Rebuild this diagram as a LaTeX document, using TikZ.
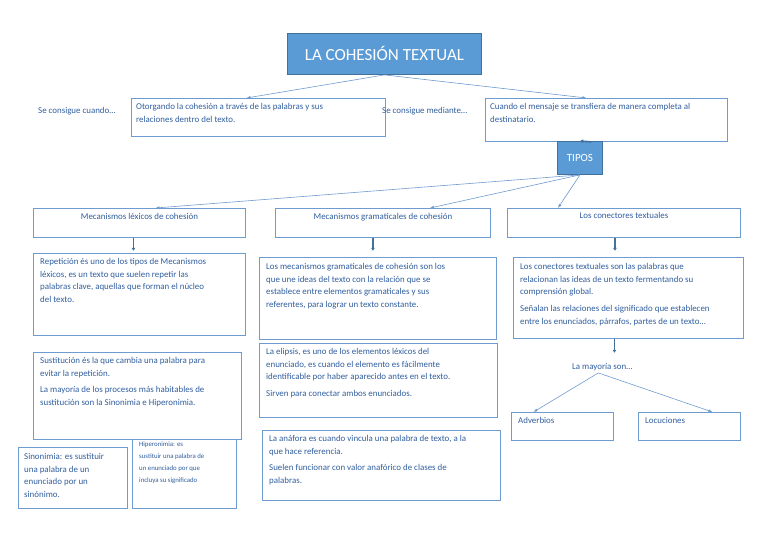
\documentclass[tikz,border=0pt]{standalone}
\usepackage{fontspec}
\setmainfont{Carlito}
\usetikzlibrary{arrows.meta}
\definecolor{tx}{HTML}{2F5D9E}
\definecolor{bd}{HTML}{6E9BD0}
\definecolor{fl}{HTML}{5B9BD5}
\definecolor{fd}{HTML}{41719C}
\tikzset{
 bx/.style={draw=bd,line width=0.9pt,anchor=north west,inner sep=0pt},
 fbx/.style={draw=fd,fill=fl,line width=0.9pt,anchor=north west,inner sep=0pt,text=white},
 tt/.style={anchor=north west,text=tx,align=left,font=\fontsize{8.9}{12.8}\selectfont,inner sep=0pt},
 conn/.style={draw=bd,line width=0.6pt,-{Latex[length=4pt,width=3pt]}},
 thick arr/.style={draw=fd,line width=1.6pt,-{Latex[length=3pt,width=4pt]}},
}
\begin{document}
\begin{tikzpicture}[x=1pt,y=-1pt]
\useasboundingbox (0,0) rectangle (768,543);
% boxes
\node[fbx,minimum width=194pt,minimum height=41pt,font=\fontsize{17}{17}\selectfont] (title) at (287,33) {LA COHESIÓN TEXTUAL};
\node[bx,minimum width=254pt,minimum height=38pt] (A) at (131,98) {};
\node[bx,minimum width=242pt,minimum height=43pt] (B) at (485,98) {};
\node[fbx,minimum width=45pt,minimum height=33pt,font=\fontsize{11}{11}\selectfont] (tipos) at (557,141) {TIPOS};
\node[bx,minimum width=212pt,minimum height=29pt] (L) at (33,208) {};
\node[bx,minimum width=215pt,minimum height=29pt] (G) at (275,208) {};
\node[bx,minimum width=233pt,minimum height=29pt] (C) at (507,208) {};
\node[bx,minimum width=212pt,minimum height=82pt] (L2) at (33,253) {};
\node[bx,minimum width=237pt,minimum height=82pt] (G2) at (259,257) {};
\node[bx,minimum width=230pt,minimum height=81pt] (C2) at (513,257) {};
\node[bx,minimum width=208pt,minimum height=87pt] (L3) at (33,352) {};
\node[bx,minimum width=238pt,minimum height=74pt] (G3) at (259,343) {};
\node[bx,minimum width=238pt,minimum height=70pt] (G4) at (262,430) {};
\node[bx,minimum width=109pt,minimum height=61pt] (S) at (18,447) {};
\node[bx,minimum width=104pt,minimum height=69pt] (H) at (132,439) {};
\node[bx,minimum width=102pt,minimum height=28pt] (Ad) at (511,412) {};
\node[bx,minimum width=102pt,minimum height=28pt] (Lo) at (638,412) {};
% texts
\node[tt] (t1) at (38,107) {Se consigue cuando…};
\node[tt] (t2) at (382,107) {Se consigue mediante…};
\node[tt] (tA) at ([shift={(5,5)}]A.north west) {Otorgando la cohesión a través de las palabras y sus\\relaciones dentro del texto.};
\node[tt] (tB) at ([shift={(5,5)}]B.north west) {Cuando el mensaje se transfiera de manera completa al\\destinatario.};
\node[tt,anchor=north] at ([yshift=-5]L.north) {Mecanismos léxicos de cohesión};
\node[tt,anchor=north] at ([yshift=-5]G.north) {Mecanismos gramaticales de cohesión};
\node[tt,anchor=north] at ([yshift=-4]C.north) {Los conectores textuales};
\node[tt] at ([shift={(7,5)}]L2.north west) {Repetición és uno de los tipos de Mecanismos\\léxicos, es un texto que suelen repetir las\\palabras clave, aquellas que forman el núcleo\\del texto.};
\node[tt] at ([shift={(7,6)}]G2.north west) {Los mecanismos gramaticales de cohesión son los\\que une ideas del texto con la relación que se\\establece entre elementos gramaticales y sus\\referentes, para lograr un texto constante.};
\node[tt] at ([shift={(7,6)}]C2.north west) {Los conectores textuales son las palabras que\\relacionan las ideas de un texto fermentando su\\comprensión global.\\[4pt]Señalan las relaciones del significado que establecen\\entre los enunciados, párrafos, partes de un texto…};
\node[tt] at ([shift={(7,5)}]L3.north west) {Sustitución és la que cambia una palabra para\\evitar la repetición.\\[4pt]La mayoría de los procesos más habitables de\\sustitución son la Sinonimia e Hiperonimia.};
\node[tt] at ([shift={(7,5)}]G3.north west) {La elipsis, es uno de los elementos léxicos del\\enunciado, es cuando el elemento es fácilmente\\identificable por haber aparecido antes en el texto.\\[4pt]Sirven para conectar ambos enunciados.};
\node[tt] at ([shift={(7,5)}]G4.north west) {La anáfora es cuando vincula una palabra de texto, a la\\que hace referencia.\\[4pt]Suelen funcionar con valor anafórico de clases de\\palabras.};
\node[tt] at ([shift={(6,6)}]S.north west) {Sinonimia: es sustituir\\una palabra de un\\enunciado por un\\sinónimo.};
\node[tt,font=\fontsize{6.8}{12}\selectfont] at ([shift={(7,3)}]H.north west) {Hiperonimia: es\\sustituir una palabra de\\un enunciado por que\\incluya su significado};
\node[tt] (may) at (572,363) {La mayoría son…};
\node[tt] at ([shift={(7,5)}]Ad.north west) {Adverbios};
\node[tt] at ([shift={(7,5)}]Lo.north west) {Locuciones};
% connectors
\draw[conn] (title.south) -- ([xshift=-12]A.north);
\draw[conn] (title.south) -- ([xshift=-20]B.north);
\draw[thick arr] ([xshift=-15]B.south) -- (tipos.north);
\draw[conn] (tipos.south) -- ([xshift=16]L.north);
\draw[conn] (tipos.south) -- ([xshift=47]G.north);
\draw[conn] (tipos.south) -- ([xshift=-66]C.north);
\draw[thick arr] ([xshift=-6]L.south) -- ++(0,13);
\draw[thick arr] ([xshift=-10]G.south) -- ++(0,13);
\draw[thick arr] ([xshift=-9]C.south) -- ++(0,13);
\draw[thick arr] ([xshift=-14]C2.south) -- ++(0,14);
\draw[conn] ([xshift=-4,yshift=-2]may.south) -- ([xshift=-29]Ad.north);
\draw[conn] ([xshift=-4,yshift=-2]may.south) -- ([xshift=23]Lo.north);
\end{tikzpicture}
\end{document}
